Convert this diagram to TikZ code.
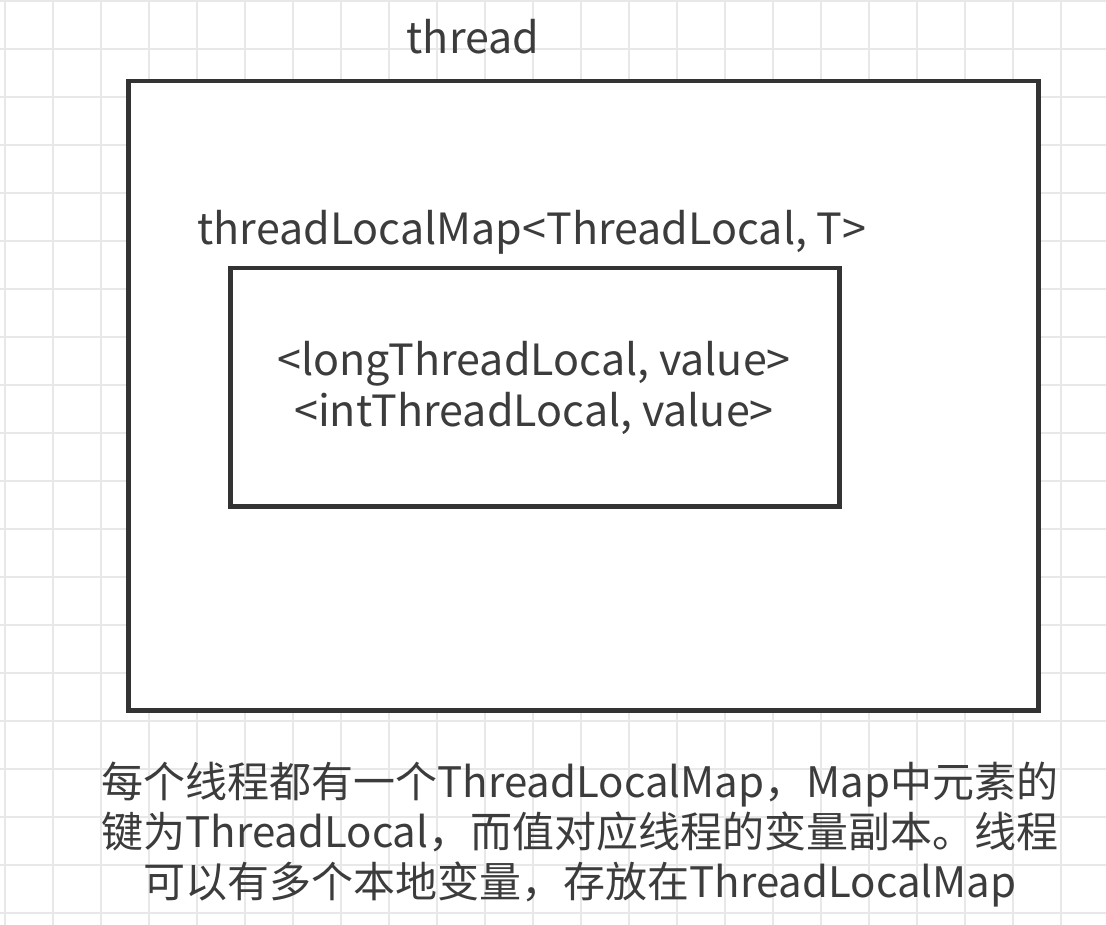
\documentclass[tikz,border=0pt]{standalone}
\usepackage{fontspec}
\setmainfont{Noto Sans CJK SC}
\definecolor{ink}{HTML}{333333}
\definecolor{txt}{HTML}{3C3C3C}
\definecolor{gridc}{HTML}{E8E8E8}
\tikzset{
  gridline/.style={draw=gridc, line width=2pt},
  boxframe/.style={draw=ink, line width=4.5pt, fill=white},
  label/.style={text=txt, inner sep=0pt, font=\fontsize{43}{51}\selectfont, align=center},
  notelabel/.style={text=txt, inner sep=0pt, font=\fontsize{42}{50}\selectfont, align=center},
}
\begin{document}
\begin{tikzpicture}[x=1pt,y=-1pt]
  \fill[white] (0,0) rectangle (1106,925);
  \useasboundingbox (0,0) rectangle (1106,925);
  \foreach \k in {0,...,22} { \draw[gridline] (5+48*\k,0) -- (5+48*\k,925); }
  \foreach \k in {0,...,19} { \draw[gridline] (0,1+48*\k) -- (1106,1+48*\k); }
  \node[boxframe, minimum width=910pt, minimum height=629pt, anchor=north west, inner sep=0pt] (thread) at (126,79) {};
  \node[boxframe, minimum width=609pt, minimum height=238pt, anchor=north west, inner sep=0pt] (map) at (228,266) {};
  \node[label] (threadlbl) at (473,37) {thread};
  \node[label] (maplbl) at (532,232) {threadLocalMap<ThreadLocal, T>};
  \node[label] (entries) at (534,388) {<longThreadLocal, value>\\<intThreadLocal, value>};
  \node[notelabel] (note) at (580,835) {每个线程都有一个ThreadLocalMap，Map中元素的\\键为ThreadLocal，而值对应线程的变量副本。线程\\可以有多个本地变量，存放在ThreadLocalMap};
\end{tikzpicture}
\end{document}
